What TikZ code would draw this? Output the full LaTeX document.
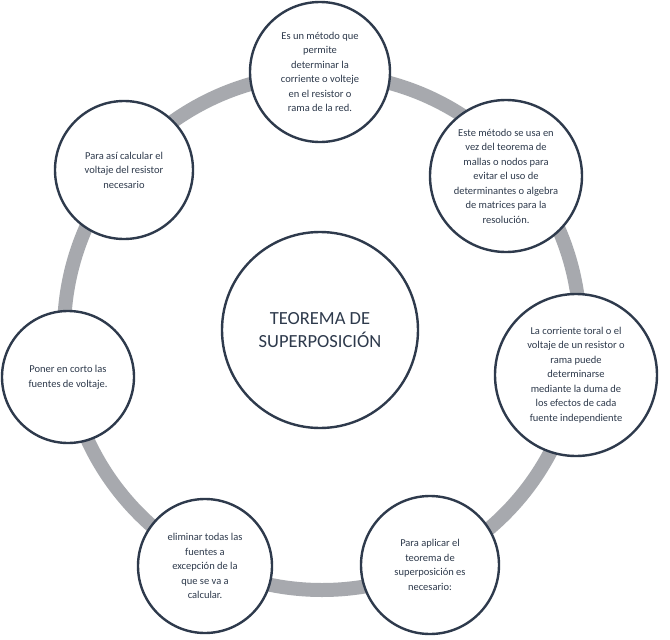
\documentclass[tikz,border=0pt]{standalone}
\usepackage{fontspec}
\setmainfont{Carlito}
\definecolor{ring}{HTML}{A7A9AE}
\definecolor{edge}{HTML}{2E3A4C}
\definecolor{txt}{HTML}{2E3A4C}
\begin{document}
\begin{tikzpicture}[x=1pt,y=-1pt,
  bub/.style={circle,draw=edge,line width=2.4pt,fill=white,text=txt,align=center,inner sep=0pt,font=\fontsize{10.5}{14.5}\selectfont}]
\useasboundingbox (0,0) rectangle (670,640);
\fill[white] (0,0) rectangle (670,640);
\coordinate (c) at (322,332);
\draw[ring,line width=14pt] (c) circle[radius=258];
\node[bub,minimum size=196,font=\fontsize{18.5}{23}\selectfont] (m) at (320,330) {TEOREMA DE\\SUPERPOSICIÓN};
\node[bub,minimum size=140] (a) at (320,72) {Es un método que\\permite\\determinar la\\corriente o volteje\\en el resistor o\\rama de la red.};
\node[bub,minimum size=152] (b) at (506,176) {Este método se usa en\\vez del teorema de\\mallas o nodos para\\evitar el uso de\\determinantes o algebra\\de matrices para la\\resolución.};
\node[bub,minimum size=162] (d) at (576,375) {La corriente toral o el\\voltaje de un resistor o\\rama puede\\determinarse\\mediante la duma de\\los efectos de cada\\fuente independiente};
\node[bub,minimum size=138] (e) at (430,565) {Para aplicar el\\teorema de\\superposición es\\necesario:};
\node[bub,minimum size=134] (f) at (205,566) {eliminar todas las\\fuentes a\\excepción de la\\que se va a\\calcular.};
\node[bub,minimum size=132] (g) at (68,377) {Poner en corto las\\fuentes de voltaje.};
\node[bub,minimum size=138] (h) at (124,170) {Para así calcular el\\voltaje del resistor\\necesario};
\end{tikzpicture}
\end{document}
